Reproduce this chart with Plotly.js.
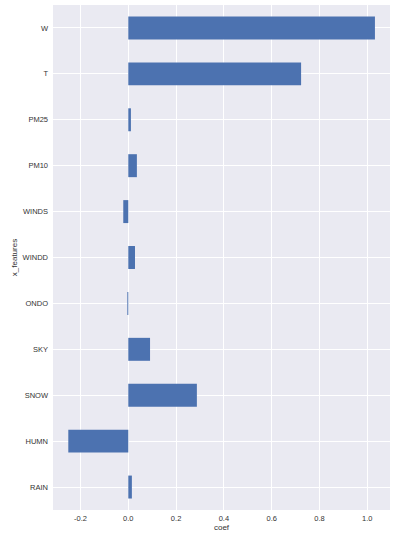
<!DOCTYPE html>
<html>
<head>
<meta charset="utf-8">
<script src="https://cdn.plot.ly/plotly-3.0.1.min.js"></script>
<style>html,body{margin:0;padding:0;background:#fff;}#chart{width:408px;height:539px;}</style>
</head>
<body>
<div id="chart"></div>
<script>
var features = ["W", "T", "PM25", "PM10", "WINDS", "WINDD", "ONDO", "SKY", "SNOW", "HUMN", "RAIN"];
var coefs = [1.032, 0.723, 0.011, 0.036, -0.021, 0.028, -0.004, 0.091, 0.287, -0.251, 0.015];
var xTicks = [-0.2, 0.0, 0.2, 0.4, 0.6, 0.8, 1.0];
var xTickLabels = ["-0.2", "0.0", "0.2", "0.4", "0.6", "0.8", "1.0"];

var trace = {
  type: "bar",
  orientation: "h",
  x: coefs,
  y: features,
  width: 0.5,
  marker: {color: "#4C72B0", line: {width: 0}},
  hoverinfo: "x+y"
};

var layout = {
  width: 408,
  height: 539,
  margin: {l: 53, r: 18, t: 5, b: 29},
  paper_bgcolor: "#ffffff",
  plot_bgcolor: "#EAEAF2",
  font: {family: "Liberation Sans, Arial, sans-serif", size: 7.5, color: "#333333"},
  showlegend: false,
  bargap: 0.5,
  xaxis: {
    range: [-0.315, 1.095],
    tickvals: xTicks,
    ticktext: xTickLabels,
    showgrid: true,
    gridcolor: "#ffffff",
    gridwidth: 1,
    zeroline: false,
    showline: false,
    ticks: "",
    ticklabelstandoff: 2,
    title: {text: "coef", font: {size: 8, color: "#333333"}, standoff: 2}
  },
  yaxis: {
    type: "category",
    categoryorder: "array",
    categoryarray: features,
    range: [10.5, -0.5],
    showgrid: true,
    gridcolor: "#ffffff",
    gridwidth: 1,
    zeroline: false,
    showline: false,
    ticks: "",
    ticklabelstandoff: 4,
    title: {text: "x_features", font: {size: 8, color: "#333333"}, standoff: 3}
  }
};

Plotly.newPlot("chart", [trace], layout, {displayModeBar: false, staticPlot: true});
</script>
</body>
</html>
